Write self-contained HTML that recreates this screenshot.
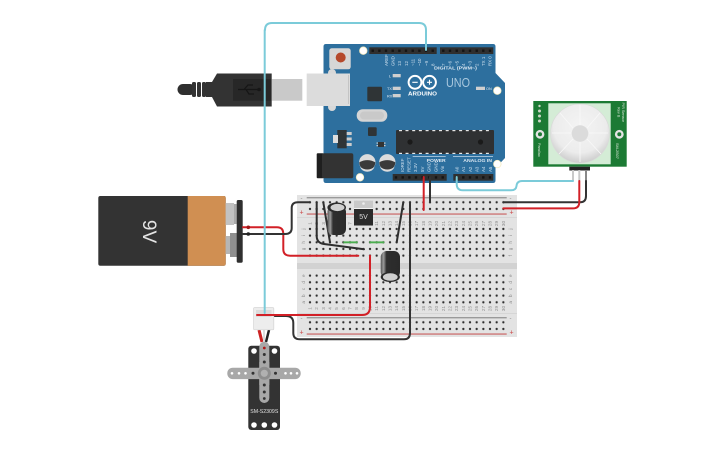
<!DOCTYPE html>
<html><head><meta charset="utf-8"><style>
html,body{margin:0;padding:0;background:#fff;width:725px;height:453px;overflow:hidden}
svg{display:block;font-family:"Liberation Sans",sans-serif;filter:blur(.35px)}
.w{fill:none;stroke-linecap:round;stroke-linejoin:round;stroke-width:2}
.n text{font-size:4.6px;fill:#8a8a8a;text-anchor:middle}
.a text{font-size:4.4px;fill:#cfe0ee;text-anchor:start}
</style></head><body>
<svg width="725" height="453" viewBox="0 0 725 453" xmlns="http://www.w3.org/2000/svg">
<defs>
<pattern id="h" patternUnits="userSpaceOnUse" x="306.67" y="198.97" width="6.667" height="6.667"><circle cx="3.33" cy="3.33" r="1.15" fill="#2e2e2e"/></pattern>
<radialGradient id="dm" cx="50%" cy="38%" r="62%"><stop offset="0" stop-color="#f4f4f4"/><stop offset="0.72" stop-color="#ececec"/><stop offset="1" stop-color="#cdcdcd"/></radialGradient>
<linearGradient id="cp" x1="0" x2="1" y1="0" y2="0"><stop offset="0" stop-color="#555"/><stop offset="0.15" stop-color="#9a9a9a"/><stop offset="0.3" stop-color="#2e2e2e"/><stop offset="1" stop-color="#2a2a2a"/></linearGradient>
</defs>

<!-- breadboard -->
<rect x="297" y="195" width="220" height="142" fill="#e3e3e3"/>
<rect x="297" y="263" width="220" height="6" fill="#d2d2d2"/>
<rect x="297" y="217" width="220" height="1" fill="#d6d6d6"/>
<rect x="297" y="313" width="220" height="1" fill="#d6d6d6"/>
<rect x="306.7" y="197" width="200" height="1.4" fill="#9a9a9a"/>
<rect x="306.7" y="213.4" width="200" height="1.3" fill="#cc7070"/>
<rect x="306.7" y="317" width="200" height="1.4" fill="#9a9a9a"/>
<rect x="306.7" y="333.4" width="200" height="1.3" fill="#cc7070"/>
<rect x="306.67" y="198.97" width="200" height="13.33" fill="url(#h)"/>
<rect x="306.67" y="225.63" width="200" height="33.33" fill="url(#h)"/>
<rect x="306.67" y="272.3" width="200" height="33.33" fill="url(#h)"/>
<rect x="306.67" y="318.97" width="200" height="13.33" fill="url(#h)"/>
<g fill="#c44" font-size="7"><text x="299.5" y="214.5">+</text><text x="509.5" y="214.5">+</text><text x="299.5" y="334.5">+</text><text x="509.5" y="334.5">+</text></g>
<g fill="#888" font-size="6"><text x="300.5" y="200">-</text><text x="509.5" y="200">-</text><text x="300.5" y="320">-</text><text x="509.5" y="320">-</text></g>
<g class="n">
<g id="nums" transform="translate(0,223.5)">
<text transform="translate(311.5) rotate(-90)">1</text><text transform="translate(318.2) rotate(-90)">2</text><text transform="translate(324.8) rotate(-90)">3</text><text transform="translate(331.5) rotate(-90)">4</text><text transform="translate(338.2) rotate(-90)">5</text><text transform="translate(344.8) rotate(-90)">6</text><text transform="translate(351.5) rotate(-90)">7</text><text transform="translate(358.2) rotate(-90)">8</text><text transform="translate(364.8) rotate(-90)">9</text><text transform="translate(371.5) rotate(-90)">10</text><text transform="translate(378.2) rotate(-90)">11</text><text transform="translate(384.8) rotate(-90)">12</text><text transform="translate(391.5) rotate(-90)">13</text><text transform="translate(398.2) rotate(-90)">14</text><text transform="translate(404.8) rotate(-90)">15</text><text transform="translate(411.5) rotate(-90)">16</text><text transform="translate(418.2) rotate(-90)">17</text><text transform="translate(424.8) rotate(-90)">18</text><text transform="translate(431.5) rotate(-90)">19</text><text transform="translate(438.2) rotate(-90)">20</text><text transform="translate(444.8) rotate(-90)">21</text><text transform="translate(451.5) rotate(-90)">22</text><text transform="translate(458.2) rotate(-90)">23</text><text transform="translate(464.8) rotate(-90)">24</text><text transform="translate(471.5) rotate(-90)">25</text><text transform="translate(478.2) rotate(-90)">26</text><text transform="translate(484.8) rotate(-90)">27</text><text transform="translate(491.5) rotate(-90)">28</text><text transform="translate(498.2) rotate(-90)">29</text><text transform="translate(504.8) rotate(-90)">30</text>
</g>
<use href="#nums" y="85"/>
<g id="ltl"><text transform="translate(305,229) rotate(-90)">j</text><text transform="translate(305,235.7) rotate(-90)">i</text><text transform="translate(305,242.3) rotate(-90)">h</text><text transform="translate(305,249) rotate(-90)">g</text><text transform="translate(305,255.7) rotate(-90)">f</text><text transform="translate(305,275.7) rotate(-90)">e</text><text transform="translate(305,282.3) rotate(-90)">d</text><text transform="translate(305,289) rotate(-90)">c</text><text transform="translate(305,295.7) rotate(-90)">b</text><text transform="translate(305,302.3) rotate(-90)">a</text></g>
<use href="#ltl" x="207"/>
</g>

<!-- USB cable -->
<rect x="177.5" y="84" width="18" height="11" rx="5.5" fill="#2f2f2f"/>
<rect x="192" y="82" width="4" height="15" rx="1.5" fill="#333"/>
<rect x="197" y="82" width="4" height="15" rx="1.5" fill="#333"/>
<rect x="202" y="82" width="4" height="15" rx="1.5" fill="#333"/>
<rect x="206" y="82" width="8" height="15" fill="#333"/>
<path d="M212 82 L217 73.5 H271.7 V106.5 H217 L212 97 Z" fill="#333"/>
<rect x="233" y="79" width="38.7" height="21.7" fill="#272727"/>
<path d="M238 89.5 H259 M244 89.5 L248 85 H253 M246 89.5 L249 94 H254" fill="none" stroke="#161616" stroke-width="1.2"/>
<circle cx="259" cy="89.5" r="1.8" fill="#161616"/>
<rect x="271.7" y="79" width="30.6" height="21.7" fill="#c9c9c9"/>

<!-- Arduino -->
<path d="M326 44 H493 Q495.5 44 495.5 46.5 V73 L505 83 V158 L495.5 168 V180.5 Q495.5 183 493 183 H326 Q323.5 183 323.5 180.5 V46.5 Q323.5 44 326 44 Z" fill="#2d6f9e"/>
<circle cx="332" cy="73" r="4" fill="#d8d8d8"/><circle cx="332" cy="107" r="4" fill="#d8d8d8"/>
<rect x="306.7" y="73.5" width="43.3" height="32.5" fill="#dcdcdc"/>
<rect x="348" y="75" width="1" height="29" fill="#c4c4c4"/>
<rect x="329.3" y="48.3" width="21.4" height="21" rx="2.5" fill="#d6d6d6"/>
<circle cx="340.7" cy="57.5" r="5" fill="#b5492c"/>
<circle cx="363.3" cy="50.7" r="3.8" fill="#fff" stroke="#f2e7b8" stroke-width="0.7"/>
<circle cx="497.3" cy="90.7" r="3.8" fill="#fff" stroke="#f2e7b8" stroke-width="0.7"/>
<circle cx="497.3" cy="164" r="3.8" fill="#fff" stroke="#f2e7b8" stroke-width="0.7"/>
<circle cx="360" cy="177.3" r="3.8" fill="#fff" stroke="#f2e7b8" stroke-width="0.7"/>

<rect x="369.3" y="47.3" width="67.4" height="6.7" fill="#2f2f2f"/>
<rect x="440" y="47.3" width="53.3" height="6.7" fill="#2f2f2f"/>
<rect x="392.7" y="174" width="54" height="6.7" fill="#2f2f2f"/>
<rect x="453.3" y="174" width="40" height="6.7" fill="#2f2f2f"/>
<g fill="#141414">
<rect x="371.5" y="49.5" width="2.4" height="2.4"/><rect x="378.2" y="49.5" width="2.4" height="2.4"/><rect x="384.8" y="49.5" width="2.4" height="2.4"/><rect x="391.5" y="49.5" width="2.4" height="2.4"/><rect x="398.2" y="49.5" width="2.4" height="2.4"/><rect x="404.8" y="49.5" width="2.4" height="2.4"/><rect x="411.5" y="49.5" width="2.4" height="2.4"/><rect x="418.2" y="49.5" width="2.4" height="2.4"/><rect x="424.8" y="49.5" width="2.4" height="2.4"/><rect x="431.5" y="49.5" width="2.4" height="2.4"/>
<rect x="442.1" y="49.5" width="2.4" height="2.4"/><rect x="448.8" y="49.5" width="2.4" height="2.4"/><rect x="455.5" y="49.5" width="2.4" height="2.4"/><rect x="462.1" y="49.5" width="2.4" height="2.4"/><rect x="468.8" y="49.5" width="2.4" height="2.4"/><rect x="475.5" y="49.5" width="2.4" height="2.4"/><rect x="482.1" y="49.5" width="2.4" height="2.4"/><rect x="488.8" y="49.5" width="2.4" height="2.4"/>
<rect x="394.8" y="176.2" width="2.4" height="2.4"/><rect x="401.5" y="176.2" width="2.4" height="2.4"/><rect x="408.2" y="176.2" width="2.4" height="2.4"/><rect x="414.8" y="176.2" width="2.4" height="2.4"/><rect x="421.5" y="176.2" width="2.4" height="2.4"/><rect x="428.2" y="176.2" width="2.4" height="2.4"/><rect x="434.8" y="176.2" width="2.4" height="2.4"/><rect x="441.5" y="176.2" width="2.4" height="2.4"/>
<rect x="455.5" y="176.2" width="2.4" height="2.4"/><rect x="462.1" y="176.2" width="2.4" height="2.4"/><rect x="468.8" y="176.2" width="2.4" height="2.4"/><rect x="475.5" y="176.2" width="2.4" height="2.4"/><rect x="482.1" y="176.2" width="2.4" height="2.4"/><rect x="488.8" y="176.2" width="2.4" height="2.4"/>
</g>

<g class="a">
<text transform="translate(387.8,66) rotate(-90)">AREF</text><text transform="translate(394.5,66) rotate(-90)">GND</text><text transform="translate(401.1,66) rotate(-90)">13</text><text transform="translate(407.8,66) rotate(-90)">12</text><text transform="translate(414.5,66) rotate(-90)">~11</text><text transform="translate(421.1,66) rotate(-90)">~10</text><text transform="translate(427.8,66) rotate(-90)">~9</text><text transform="translate(434.5,66) rotate(-90)">8</text>
<text transform="translate(445,66) rotate(-90)">7</text><text transform="translate(451.7,66) rotate(-90)">~6</text><text transform="translate(458.3,66) rotate(-90)">~5</text><text transform="translate(465,66) rotate(-90)">4</text><text transform="translate(471.7,66) rotate(-90)">~3</text><text transform="translate(478.3,66) rotate(-90)">2</text><text transform="translate(485,66) rotate(-90)">TX 1</text><text transform="translate(491.7,66) rotate(-90)">RX 0</text>
<text transform="translate(404,172) rotate(-90)">IOREF</text><text transform="translate(410.5,172) rotate(-90)">RESET</text><text transform="translate(417,172) rotate(-90)">3.3V</text><text transform="translate(424,172) rotate(-90)">5V</text><text transform="translate(430.7,172) rotate(-90)">GND</text><text transform="translate(437.3,172) rotate(-90)">GND</text><text transform="translate(444,172) rotate(-90)">Vin</text>
<text transform="translate(458.5,172) rotate(-90)">A0</text><text transform="translate(465.2,172) rotate(-90)">A1</text><text transform="translate(471.8,172) rotate(-90)">A2</text><text transform="translate(478.5,172) rotate(-90)">A3</text><text transform="translate(485.2,172) rotate(-90)">A4</text><text transform="translate(491.8,172) rotate(-90)">A5</text>
</g>
<g fill="#dbe7f1" font-weight="bold" font-size="4.8">
<text x="434" y="69.3" textLength="43" lengthAdjust="spacingAndGlyphs">DIGITAL (PWM~)</text>
<text x="426.7" y="162" textLength="19" lengthAdjust="spacingAndGlyphs">POWER</text>
<text x="463.3" y="162" textLength="28.7" lengthAdjust="spacingAndGlyphs">ANALOG IN</text>
</g>
<rect x="412.7" y="156.3" width="33" height="0.7" fill="#cfe0ee"/><rect x="453" y="156.3" width="40" height="0.7" fill="#cfe0ee"/>

<!-- logo -->
<g fill="none" stroke="#fff" stroke-width="2">
<circle cx="415" cy="82.3" r="6.4"/><circle cx="429.5" cy="82.3" r="6.4"/>
</g>
<path d="M412.3 82.3 H417.7 M427 82.3 H432 M429.5 79.8 V84.8" stroke="#fff" stroke-width="1.1"/>
<text x="408" y="95.3" fill="#fff" font-size="5.6" font-weight="bold" textLength="29" lengthAdjust="spacingAndGlyphs">ARDUINO</text>
<text x="446" y="87" fill="#a9c8de" font-size="13" textLength="24" lengthAdjust="spacingAndGlyphs">UNO</text>
<g fill="#e7eef4" font-size="3.8"><text x="389" y="77.5">L</text><text x="387" y="90">TX</text><text x="387" y="97.3">RX</text><text x="486" y="90">ON</text></g>
<g fill="#cfcfcf"><rect x="392.7" y="74" width="8" height="3.3"/><rect x="392.7" y="86.7" width="8" height="3.3"/><rect x="392.7" y="94" width="8" height="3.3"/><rect x="476" y="86.7" width="9" height="3.3"/></g>

<rect x="367.3" y="86.7" width="14.7" height="14.6" rx="1" fill="#2f3436"/>
<rect x="356.7" y="109.3" width="30.6" height="12.4" rx="6" fill="#d5d5d5"/>
<rect x="360" y="111.5" width="24" height="8" rx="4" fill="#c9c9c9"/>
<rect x="368" y="127.3" width="8.7" height="8.7" rx="1" fill="#2f3436"/>
<rect x="337.3" y="130" width="9.4" height="18.3" fill="#2f3436"/>
<rect x="333" y="135" width="5" height="8" fill="#ddd"/>
<g fill="#ccc"><rect x="346.7" y="132" width="5" height="3"/><rect x="346.7" y="137.5" width="5" height="3"/><rect x="346.7" y="143" width="5" height="3"/></g>
<rect x="378" y="142" width="6" height="5" fill="#333"/>
<g fill="#ccc"><rect x="376.5" y="142.5" width="1.5" height="1.2"/><rect x="376.5" y="145" width="1.5" height="1.2"/><rect x="384" y="142.5" width="1.5" height="1.2"/><rect x="384" y="145" width="1.5" height="1.2"/></g>
<rect x="396" y="130" width="98" height="24" rx="1" fill="#2f3133"/>
<g fill="#e8e8e8"><rect x="399" y="130" width="3" height="1.2"/><rect x="405.5" y="130" width="3" height="1.2"/><rect x="412.2" y="130" width="3" height="1.2"/><rect x="418.9" y="130" width="3" height="1.2"/><rect x="425.6" y="130" width="3" height="1.2"/><rect x="432.3" y="130" width="3" height="1.2"/><rect x="439" y="130" width="3" height="1.2"/><rect x="445.7" y="130" width="3" height="1.2"/><rect x="452.4" y="130" width="3" height="1.2"/><rect x="459.1" y="130" width="3" height="1.2"/><rect x="465.8" y="130" width="3" height="1.2"/><rect x="472.5" y="130" width="3" height="1.2"/><rect x="479.2" y="130" width="3" height="1.2"/><rect x="485.9" y="130" width="3" height="1.2"/>
<rect x="399" y="152.8" width="3" height="1.2"/><rect x="405.5" y="152.8" width="3" height="1.2"/><rect x="412.2" y="152.8" width="3" height="1.2"/><rect x="418.9" y="152.8" width="3" height="1.2"/><rect x="425.6" y="152.8" width="3" height="1.2"/><rect x="432.3" y="152.8" width="3" height="1.2"/><rect x="439" y="152.8" width="3" height="1.2"/><rect x="445.7" y="152.8" width="3" height="1.2"/><rect x="452.4" y="152.8" width="3" height="1.2"/><rect x="459.1" y="152.8" width="3" height="1.2"/><rect x="465.8" y="152.8" width="3" height="1.2"/><rect x="472.5" y="152.8" width="3" height="1.2"/><rect x="479.2" y="152.8" width="3" height="1.2"/><rect x="485.9" y="152.8" width="3" height="1.2"/></g>
<circle cx="410" cy="142" r="2.6" fill="#1a1a1a"/><circle cx="480.5" cy="142" r="2.6" fill="#1a1a1a"/>
<rect x="316.7" y="153.3" width="7" height="25" rx="1" fill="#1f1f1f"/>
<rect x="322" y="153.3" width="31.3" height="25" rx="2" fill="#333"/>
<circle cx="367.3" cy="162.3" r="8.2" fill="#dcdcdc"/><path d="M359.3 162.3 A8 8 0 0 0 375.3 162.3 Q367.3 158 359.3 162.3Z" fill="#3a3a3a"/><path d="M360 167 A8 8 0 0 0 374.6 167 Q367.3 172 360 167Z" fill="#dcdcdc"/>
<circle cx="387.3" cy="162.3" r="8.2" fill="#dcdcdc"/><path d="M379.3 162.3 A8 8 0 0 0 395.3 162.3 Q387.3 158 379.3 162.3Z" fill="#3a3a3a"/><path d="M380 167 A8 8 0 0 0 394.6 167 Q387.3 172 380 167Z" fill="#dcdcdc"/>

<!-- PIR -->
<rect x="533.3" y="101" width="93.4" height="65.7" fill="#1c7a34"/>
<rect x="548.3" y="103.3" width="62.4" height="61" fill="#d4ecd6"/>
<circle cx="580" cy="133.5" r="29.5" fill="url(#dm)" stroke="#d9d9d9" stroke-width="0.6"/>
<g stroke="#f9f9f9" stroke-width="0.8"><path d="M580 125 V105 M587 128 L600 113 M589 133 H608 M587 139 L601 154 M580 142 V162 M573 139 L559 154 M571 133 H552 M573 128 L560 113"/></g>
<circle cx="580" cy="133.5" r="8.3" fill="#dbdbdb"/>
<circle cx="540" cy="134.3" r="4.4" fill="#e4e4e4"/><circle cx="540" cy="134.3" r="2" fill="#1c7a34"/>
<circle cx="619.3" cy="134.3" r="4.4" fill="#e4e4e4"/><circle cx="619.3" cy="134.3" r="2" fill="#1c7a34"/>
<g fill="#cfd8c8"><circle cx="539.5" cy="106" r="1.2"/><circle cx="539.5" cy="111" r="1.5"/><circle cx="539.5" cy="116" r="1.5"/><circle cx="539.5" cy="121" r="1.5"/></g>
<g fill="#dfe8dc" font-size="3.8"><text transform="translate(622,102.5) rotate(90)">PIR Sensor</text><text transform="translate(617.5,107) rotate(90)">Rev B</text><text transform="translate(616,143) rotate(90)">SM-2B07</text><text transform="translate(538,143) rotate(90)">Parallax</text></g>
<rect x="569.3" y="166.7" width="20.7" height="3.8" fill="#222"/>

<!-- grey pin stubs -->
<path d="M573 170 V181 M579.3 170 V181" stroke="#c9c9c9" stroke-width="2" fill="none"/>
<path d="M586 170 V181" stroke="#888" stroke-width="2" fill="none"/>

<!-- battery -->
<rect x="98.3" y="196" width="127.4" height="69.7" rx="2" fill="#333"/>
<path d="M187.7 196 H223.7 Q225.7 196 225.7 198 V263.7 Q225.7 265.7 223.7 265.7 H187.7 Z" fill="#d08f52"/>
<text transform="translate(143,231.5) rotate(90)" fill="#e4e4e4" font-size="19" text-anchor="middle">9V</text>
<rect x="225.7" y="203" width="8.3" height="22" fill="#c2c2c2"/>
<rect x="234" y="204" width="2.7" height="20" fill="#aaa"/>
<rect x="225.7" y="236" width="4.5" height="18" fill="#b5b5b5"/>
<rect x="230" y="233" width="7" height="24" fill="#8f8f8f"/>
<rect x="236.7" y="200" width="6" height="62.7" rx="1.5" fill="#2f2f2f"/>

<!-- breadboard components -->
<path d="M316.7 202.3 V236 Q316.7 243 324 244 L364 249.3" class="w" stroke="#2f2f2f"/>
<path d="M323.3 202.3 L330 242.3" class="w" stroke="#2f2f2f"/>
<path d="M403.3 202.3 L396.7 242.3" class="w" stroke="#2f2f2f"/>
<rect x="343.3" y="241.4" width="14.4" height="1.9" fill="#4cae50"/>
<rect x="369.3" y="241.4" width="15" height="1.9" fill="#4cae50"/>
<rect x="327.5" y="206" width="18.5" height="29" rx="6" fill="url(#cp)"/>
<ellipse cx="336.7" cy="207.5" rx="9.3" ry="5" fill="#2a2a2a"/>
<ellipse cx="337.5" cy="207.5" rx="7" ry="3.6" fill="#cfcfcf"/>
<rect x="354" y="200.7" width="19" height="8" fill="#c9c9c9"/>
<circle cx="363.5" cy="203.5" r="1.3" fill="#eee"/>
<rect x="354" y="208.5" width="19" height="17" fill="#2b2b2b"/>
<rect x="354" y="208" width="19" height="1" fill="#f2f2f2"/>
<text x="363.5" y="219" font-size="7" fill="#ddd" text-anchor="middle">5V</text>
<rect x="380.7" y="251" width="19.3" height="27" rx="6" fill="url(#cp)"/>
<ellipse cx="390.3" cy="277" rx="9.6" ry="5" fill="#2a2a2a"/>
<ellipse cx="390.3" cy="277" rx="7.4" ry="3.8" fill="#cfcfcf"/>

<!-- wires -->
<path d="M503.3 202.3 H580 Q586 202.3 586 196 V181" class="w" stroke="#333"/>
<path d="M503.3 208.4 H573 Q579.3 208.4 579.3 202 V181" class="w" stroke="#d22027"/>
<path d="M456.7 177 V184 Q456.7 190.3 463 190.3 H511 Q516 190.3 516.5 186 Q517 181 522 181 H573" class="w" stroke="#7bcbd9"/>
<path d="M423.7 177 V210" class="w" stroke="#d22027"/>
<path d="M430 177 V202.3" class="w" stroke="#333"/>
<path d="M243 227.3 H277 Q283.3 227.3 283.3 234 V249 Q283.3 255.7 290 255.7 H358.3" class="w" stroke="#d22027"/>
<path d="M243 234 H285 Q291.7 234 291.7 228 V208 Q291.7 202.3 298 202.3 H310" class="w" stroke="#333"/>
<circle cx="248.3" cy="227.3" r="1.8" fill="#a01818"/><circle cx="248.3" cy="234" r="1.8" fill="#222"/>
<path d="M258 316 H286 Q293.3 316 293.3 323 V333 Q293.3 339.3 300 339.3 H404 Q410 339.3 410 333 V202.3" class="w" stroke="#333"/>

<!-- servo -->
<rect x="248.3" y="345.7" width="31.7" height="84.3" rx="3" fill="#333"/>
<path d="M259 330 L262 342" stroke="#c22" stroke-width="3"/>
<path d="M269 330 L266 342" stroke="#222" stroke-width="2.5"/>
<path d="M264 330 V342" stroke="#ddd" stroke-width="2"/>
<circle cx="254" cy="351" r="2.8" fill="#fff"/><circle cx="274.5" cy="351" r="2.8" fill="#fff"/>
<circle cx="254" cy="425" r="2.8" fill="#fff"/><circle cx="264.3" cy="425" r="2.8" fill="#fff"/><circle cx="274.5" cy="425" r="2.8" fill="#fff"/>
<rect x="227.3" y="367.7" width="73.4" height="11.4" rx="5.5" fill="#a8a8a8"/>
<rect x="259.3" y="341.7" width="10" height="61.3" rx="5" fill="#a8a8a8"/>
<path d="M254 368 H259.3 V362 L264.3 360 L269.3 362 V368 H275 V379 H269.3 V385 H259.3 V379 H254Z" fill="#a8a8a8"/>
<circle cx="264.3" cy="373.3" r="6.5" fill="#8d8d8d"/><circle cx="264.3" cy="373.3" r="3.6" fill="#b0b0b0"/>
<g fill="#fff"><circle cx="232" cy="373.3" r="1.3"/><circle cx="239" cy="373.3" r="1.3"/><circle cx="245.5" cy="373.3" r="1.3"/><circle cx="285.5" cy="373.3" r="1.3"/><circle cx="291" cy="373.3" r="1.3"/><circle cx="297" cy="373.3" r="1.3"/></g>
<g fill="#333"><circle cx="253" cy="373.3" r="1.5"/><circle cx="275.5" cy="373.3" r="1.5"/><circle cx="264.3" cy="362" r="1.5"/><circle cx="264.3" cy="354.5" r="1.5"/><circle cx="264.3" cy="385" r="1.5"/><circle cx="264.3" cy="392" r="1.5"/><circle cx="264.3" cy="398.5" r="1.4"/></g>
<circle cx="264.3" cy="348" r="1.4" fill="#b01818"/>
<text x="250.3" y="412.8" fill="#e2e2e2" font-size="5.6" textLength="28" lengthAdjust="spacingAndGlyphs">SM-S2309S</text>
<rect x="253.6" y="307.6" width="20.2" height="22.2" rx="1" fill="#ededed" stroke="#d4d4d4" stroke-width="0.7"/>
<rect x="256" y="310" width="15.5" height="7" fill="#dcdcdc"/>
<path d="M265 30 Q265 23 272 23 H419 Q426 23 426 30 V50" class="w" stroke="#7bcbd9"/>
<path d="M264.7 30 V313" class="w" stroke="#7bcbd9"/>
<path d="M257 315 H362 Q370 315 370 307 V255.7" class="w" stroke="#d22027"/>
</svg>
</body></html>
